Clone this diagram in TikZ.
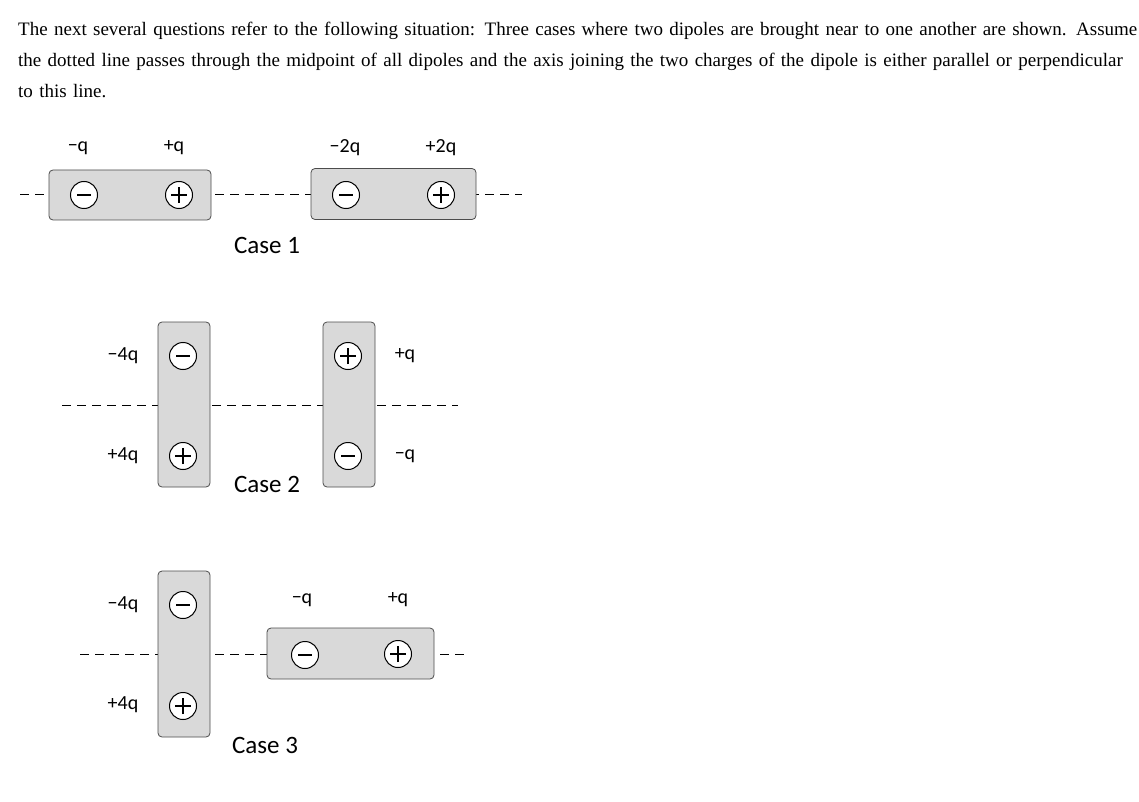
\documentclass[tikz,border=0pt]{standalone}
\usepackage{fontspec}
\setmainfont{Liberation Serif}
\newfontfamily\lab{Carlito}
\begin{document}
\begin{tikzpicture}[x=1pt,y=-1pt,
  dbox/.style={draw=black!70,fill=black!15,rounded corners=4pt,line width=0.8pt},
  axisline/.style={dash pattern=on 9pt off 6pt,line width=1pt},
  chg/.style={circle,draw,fill=white,minimum size=27pt,inner sep=0pt,line width=1pt},
  lbl/.style={font=\lab\fontsize{20}{22}\selectfont},
  cs/.style={font=\lab\fontsize{25}{28}\selectfont}]
\useasboundingbox (0,0) rectangle (1139,802);
\node[anchor=west,font=\fontsize{19}{31}\selectfont,text width=1120pt,align=left,inner sep=0pt] (txt) at (18,60)
 {The next several questions refer to the following situation: Three cases where two dipoles are brought near to one another are shown. Assume the dotted line passes through the midpoint of all dipoles and the axis joining the two charges of the dipole is either parallel or perpendicular to this line.};
\newcommand{\mkminus}[2]{\node[chg] (#1) at #2 {}; \draw[line width=2.2pt] ([xshift=-7pt]#1.center) -- ([xshift=7pt]#1.center);}
\newcommand{\mkplus}[2]{\node[chg] (#1) at #2 {}; \draw[line width=2pt] ([xshift=-8pt]#1.center) -- ([xshift=8pt]#1.center) ([yshift=-8pt]#1.center) -- ([yshift=8pt]#1.center);}
% Case 1
\coordinate (l1a) at (20,195); \coordinate (l1b) at (522,195);
\draw[axisline] (l1a) -- (l1b);
\node[dbox,minimum width=162pt,minimum height=50pt] (b11) at (130,195) {};
\node[dbox,minimum width=165pt,minimum height=51pt] (b12) at (393.5,194) {};
\mkminus{c1}{(84,195)} \mkplus{c2}{(179,195)}
\mkminus{c3}{(346,195)} \mkplus{c4}{(441,195)}
\node[lbl] at (78,148) {−q}; \node[lbl] at (174,148) {+q};
\node[lbl] at (345,148) {−2q}; \node[lbl] at (441,148) {+2q};
\node[cs] at (267,245) {Case 1};
% Case 2
\coordinate (l2a) at (62,405); \coordinate (l2b) at (458,405);
\draw[axisline] (l2a) -- (l2b);
\node[dbox,minimum width=52pt,minimum height=165pt] (b21) at (184,404.5) {};
\node[dbox,minimum width=52pt,minimum height=165pt] (b22) at (349,404.5) {};
\mkminus{c5}{(183,356)} \mkplus{c6}{(183,456)}
\mkplus{c7}{(348,356)} \mkminus{c8}{(348,456)}
\node[lbl] at (123,356) {−4q}; \node[lbl] at (123,456) {+4q};
\node[lbl] at (405,356) {+q}; \node[lbl] at (405,456) {−q};
\node[cs] at (267,484) {Case 2};
% Case 3
\coordinate (l3a) at (80,654); \coordinate (l3b) at (468,654);
\draw[axisline] (l3a) -- (l3b);
\node[dbox,minimum width=52pt,minimum height=166pt] (b31) at (184,654) {};
\node[dbox,minimum width=167pt,minimum height=51pt] (b32) at (350.5,653.5) {};
\mkminus{c9}{(183,605)} \mkplus{c10}{(183,706)}
\mkminus{c11}{(305,655)} \mkplus{c12}{(398,654)}
\node[lbl] at (123,605) {−4q}; \node[lbl] at (123,705) {+4q};
\node[lbl] at (302,600) {−q}; \node[lbl] at (398,600) {+q};
\node[cs] at (265,745) {Case 3};
\end{tikzpicture}
\end{document}
